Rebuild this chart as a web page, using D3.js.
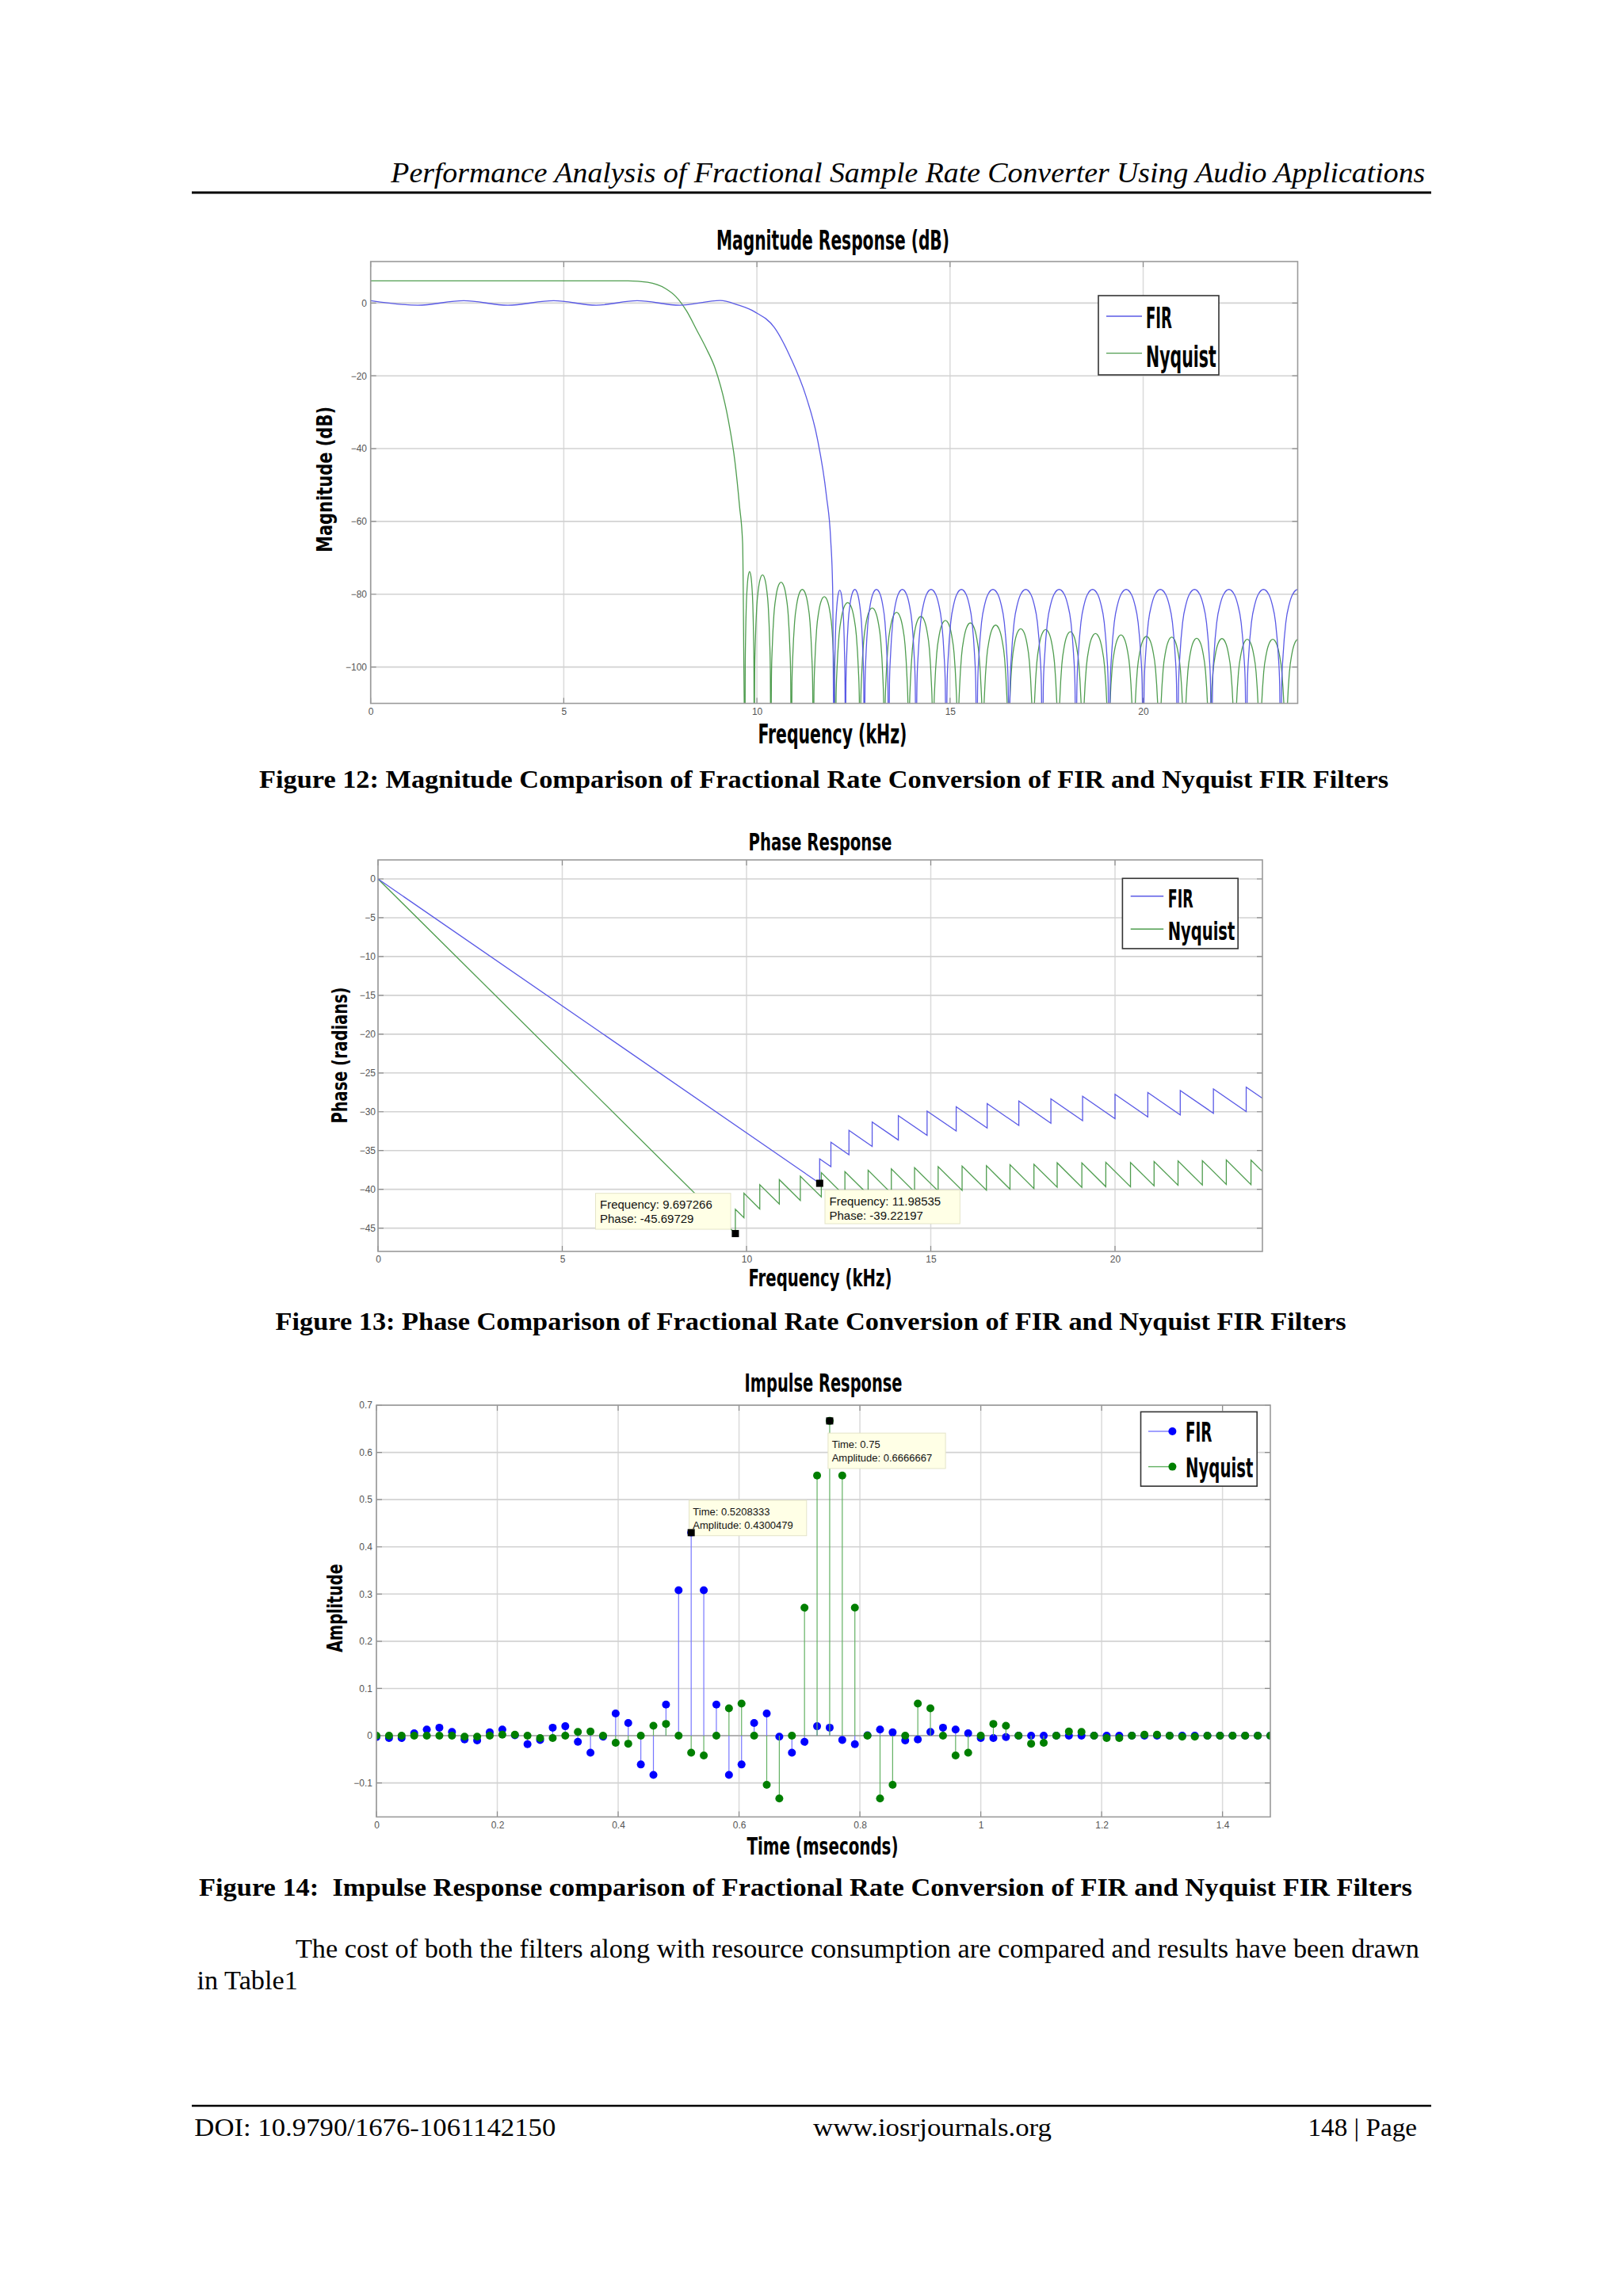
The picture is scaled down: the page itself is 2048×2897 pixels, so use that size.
<!DOCTYPE html>
<html><head><meta charset="utf-8">
<script src="https://cdn.jsdelivr.net/npm/d3@7"></script>
<style>
html,body{margin:0;padding:0;background:#fff;}
svg{display:block;}
</style></head><body>
<script>
// ================= DATA =================
// ---- Figure 12: Magnitude response (kHz, dB) ----
const firPassF  = [0, 1.22, 2.41, 3.55, 4.74, 5.84, 6.90, 8.00, 9.05, 9.50, 9.94, 10.45, 10.88, 11.27, 11.56, 11.80, 11.91, 11.96];
const firPassDb = [0.65, -0.6, 0.65, -0.6, 0.65, -0.6, 0.65, -0.6, 0.7, -0.5, -2.4, -6.7, -15.2, -25.6, -37, -53, -65, -78];
const firNulls  = [12.0, 12.29, 12.78, 13.41, 14.12, 14.90, 15.69, 16.53, 17.39, 18.26, 19.12, 20.00, 20.89, 21.77, 22.67, 23.56, 24.45];
const firLobePeakDb = [-78.9, -78.7, -78.7, -78.7, -78.7, -78.7, -78.7, -78.7, -78.7, -78.7, -78.7, -78.7, -78.7, -78.7, -78.7, -78.7];
const nyqPassF  = [0, 6.67, 7.17, 7.63, 7.90, 8.18, 8.45, 8.68, 8.92, 9.26, 9.43, 9.55, 9.63];
const nyqPassDb = [6.1, 6.1, 5.7, 4.0, 1.8, -2.2, -7.6, -12.3, -18.0, -32.2, -43.5, -55.8, -66];
const nyqNulls  = [9.69, 9.93, 10.36, 10.89, 11.46, 12.03, 12.67, 13.30, 13.93, 14.56, 15.20, 15.85, 16.51, 17.15, 17.80, 18.43, 19.10, 19.75, 20.42, 21.06, 21.71, 22.37, 23.02, 23.69, 24.33];
const nyqLobePeakDb = [-73.8, -74.7, -76.7, -78.7, -80.7, -82.3, -83.8, -85.0, -86.1, -87.2, -87.9, -88.5, -89.5, -89.7, -90.3, -90.8, -91.2, -91.6, -91.8, -92.1, -92.2, -92.4, -92.4, -92.4];
// typical side-lobe profile (fraction of lobe width, dB below lobe peak)
const lobeProfileT  = [0, 0.03, 0.07, 0.15, 0.25, 0.35, 0.5, 0.65, 0.75, 0.85, 0.93, 0.97];
const lobeProfileDb = [-50, -26, -18, -9, -4, -1.3, 0, -1.3, -4, -9, -18, -26];
const magXTicks = [0, 5, 10, 15, 20];
const magYTicks = [0, -20, -40, -60, -80, -100];

// ---- Figure 13: Phase response (kHz, radians) ----
const firPhaseJumpF    = [11.985, 12.29, 12.78, 13.41, 14.12, 14.90, 15.69, 16.53, 17.39, 18.26, 19.12, 20.00, 20.89, 21.77, 22.67, 23.56];
const firPhaseBefore   = [-39.22, -37.08, -35.54, -34.46, -33.64, -33.05, -32.49, -32.10, -31.77, -31.48, -31.15, -30.89, -30.66, -30.40, -30.20, -29.97];
const firPhaseAfter    = [-36.08, -33.93, -32.40, -31.32, -30.50, -29.91, -29.35, -28.96, -28.63, -28.34, -28.01, -27.75, -27.52, -27.26, -27.06, -26.83];
const firPhaseEnd      = -28.27;
const nyqPhaseJumpF    = [9.697, 9.93, 10.36, 10.89, 11.46, 12.03, 12.67, 13.30, 13.93, 14.56, 15.20, 15.85, 16.51, 17.15, 17.80, 18.43, 19.10, 19.75, 20.42, 21.06, 21.71, 22.37, 23.02, 23.69];
const nyqPhaseBefore   = [-45.70, -43.65, -42.54, -41.89, -41.44, -40.98, -40.86, -40.68, -40.51, -40.34, -40.21, -40.13, -40.10, -39.98, -39.90, -39.73, -39.74, -39.66, -39.68, -39.55, -39.47, -39.44, -39.36, -39.38];
const nyqPhaseAfter    = [-42.56, -40.51, -39.40, -38.75, -38.30, -37.84, -37.71, -37.54, -37.37, -37.20, -37.07, -36.99, -36.96, -36.83, -36.76, -36.58, -36.60, -36.52, -36.54, -36.41, -36.33, -36.30, -36.22, -36.24];
const nyqPhaseEnd      = -37.70;
const phaseXTicks = [0, 5, 10, 15, 20];
const phaseYTicks = [0, -5, -10, -15, -20, -25, -30, -35, -40, -45];
const phaseTips = [
  {f: 9.697266, v: -45.69729, lines: ["Frequency: 9.697266", "Phase: -45.69729"]},
  {f: 11.98535, v: -39.22197, lines: ["Frequency: 11.98535", "Phase: -39.22197"]}
];

// ---- Figure 14: Impulse response (samples every 1/48 ms) ----
const sampleStepMs = 1 / 48;
const impulseFir = [-0.003, -0.005, -0.005, 0.005, 0.013, 0.017, 0.008, -0.008, -0.010, 0.007,
  0.013, 0.001, -0.018, -0.009, 0.017, 0.020, -0.013, -0.036, -0.002, 0.047,
  0.027, -0.061, -0.083, 0.066, 0.308, 0.4300479, 0.308, 0.066, -0.083, -0.061,
  0.027, 0.047, -0.002, -0.036, -0.013, 0.020, 0.017, -0.009, -0.018, 0.001,
  0.013, 0.007, -0.010, -0.008, 0.008, 0.017, 0.013, 0.005, -0.005, -0.005,
  -0.003, 0, 0, 0, 0, 0, 0, 0, 0, 0,
  0, 0, 0, 0, 0, 0, 0, 0, 0, 0, 0, 0];
const impulseNyq = [0, 0, 0, 0, 0, 0, 0, -0.002, -0.002, 0,
  0.002, 0.002, 0, -0.005, -0.005, 0, 0.008, 0.009, 0, -0.015,
  -0.017, 0, 0.021, 0.025, 0, -0.036, -0.042, 0, 0.058, 0.068,
  0, -0.104, -0.133, 0, 0.271, 0.551, 0.6666667, 0.551, 0.271, 0,
  -0.133, -0.104, 0, 0.068, 0.058, 0, -0.042, -0.036, 0, 0.025,
  0.021, 0, -0.017, -0.015, 0, 0.009, 0.008, 0, -0.005, -0.005,
  0, 0.002, 0.002, 0, -0.002, -0.002, 0, 0, 0, 0, 0, 0];
const impXTicks = [0, 0.2, 0.4, 0.6, 0.8, 1, 1.2, 1.4];
const impYTicks = [-0.1, 0, 0.1, 0.2, 0.3, 0.4, 0.5, 0.6, 0.7];
const impTips = [
  {t: 0.5208333, v: 0.4300479, lines: ["Time: 0.5208333", "Amplitude: 0.4300479"]},
  {t: 0.75, v: 0.6666667, lines: ["Time: 0.75", "Amplitude: 0.6666667"]}
];

// ---- Page text ----
const headerText = "Performance Analysis of Fractional Sample Rate Converter Using Audio Applications";
const captions = [
  "Figure 12: Magnitude Comparison of Fractional Rate Conversion of FIR and Nyquist FIR Filters",
  "Figure 13: Phase Comparison of Fractional Rate Conversion of FIR and Nyquist FIR Filters",
  "Figure 14:  Impulse Response comparison of Fractional Rate Conversion of FIR and Nyquist FIR Filters"
];
const paraLines = ["The cost of both the filters along with resource consumption are compared and results have been drawn", "in Table1"];
const footerTexts = ["DOI: 10.9790/1676-1061142150", "www.iosrjournals.org", "148 | Page"];
const seriesNames = ["FIR", "Nyquist"];

// ================= DRAWING =================
const W = 2048, H = 2897;
const COND = "'Liberation Sans Narrow','DejaVu Sans Condensed','Liberation Sans',sans-serif";
const SANS = "'Liberation Sans',Arial,sans-serif";
const HEAVY = "'DejaVu Sans','Liberation Sans',sans-serif";
const SERIF = "'Liberation Serif','Times New Roman',serif";
const BLUE_LINE = "#5a5ae6", GREEN_LINE = "#4f9d4f";
const BLUE_DOT = "#0000ff", GREEN_DOT = "#007f00";
const BLUE_STEM = "#7777ff", GREEN_STEM = "#63b163";

const svg = d3.select("body").append("svg").attr("width", W).attr("height", H).attr("viewBox", `0 0 ${W} ${H}`);
svg.append("rect").attr("width", W).attr("height", H).attr("fill", "#fff");

function fitText(g, str, x, y, len, size, family, weight, anchor, extra) {
  const t = g.append("text").attr("x", x).attr("y", y).text(str)
    .attr("font-family", family).attr("font-size", size).attr("font-weight", weight || "normal")
    .attr("text-anchor", anchor || "start").attr("fill", "#000");
  if (len) t.attr("textLength", len).attr("lengthAdjust", "spacingAndGlyphs");
  if (extra) extra(t);
  return t;
}

function frame(cfg) {
  const {id, x, y, xTicks, yTicks, xFmt, yFmt, yLabelRight, xLabelDy} = cfg;
  const g = svg.append("g");
  const [l, r] = x.range(), [b, t] = y.range();
  g.selectAll(null).data(xTicks).enter().append("line")
    .attr("x1", d => x(d)).attr("x2", d => x(d)).attr("y1", t).attr("y2", b)
    .attr("stroke", "#dadada").attr("stroke-width", 1.5);
  g.selectAll(null).data(yTicks).enter().append("line")
    .attr("x1", l).attr("x2", r).attr("y1", d => y(d)).attr("y2", d => y(d))
    .attr("stroke", "#d2d2d2").attr("stroke-width", 1.6);
  g.selectAll(null).data(yTicks).enter().append("path")
    .attr("d", d => `M${l},${y(d)}h7M${r},${y(d)}h-7`).attr("stroke", "#8c8c8c").attr("stroke-width", 1.2);
  g.selectAll(null).data(xTicks).enter().append("path")
    .attr("d", d => `M${x(d)},${b}v-7M${x(d)},${t}v7`).attr("stroke", "#8c8c8c").attr("stroke-width", 1.2);
  svg.append("clipPath").attr("id", id).append("rect").attr("x", l).attr("y", t).attr("width", r - l).attr("height", b - t);
  const plot = svg.append("g").attr("clip-path", `url(#${id})`);
  const ax = svg.append("g").attr("transform", `translate(0,${b})`)
    .call(d3.axisBottom(x).tickValues(xTicks).tickFormat(xFmt).tickSize(0).tickPadding(xLabelDy));
  const ay = svg.append("g").attr("transform", `translate(${yLabelRight},0)`)
    .call(d3.axisLeft(y).tickValues(yTicks).tickFormat(yFmt).tickSize(0).tickPadding(0));
  [ax, ay].forEach(a => {
    a.select(".domain").remove();
    a.selectAll("text").attr("font-family", SANS).attr("font-size", 12).attr("fill", "#555");
  });
  const border = () => svg.append("rect").attr("x", l).attr("y", t).attr("width", r - l).attr("height", b - t)
    .attr("fill", "none").attr("stroke", "#9a9a9a").attr("stroke-width", 1.6);
  return {plot, border};
}

function legend(cfg) {
  const {x0, y0, w, h, lineX1, lineX2, textX, rows, fontSize, marker} = cfg;
  const g = svg.append("g");
  g.append("rect").attr("x", x0).attr("y", y0).attr("width", w).attr("height", h)
    .attr("fill", "#fff").attr("stroke", "#333").attr("stroke-width", 1.6);
  rows.forEach(rw => {
    g.append("line").attr("x1", lineX1).attr("x2", lineX2).attr("y1", rw.ly).attr("y2", rw.ly)
      .attr("stroke", rw.color).attr("stroke-width", 1.4);
    if (marker) g.append("circle").attr("cx", lineX2).attr("cy", rw.ly).attr("r", 5).attr("fill", rw.dot);
    fitText(g, rw.name, textX, rw.base, rw.len, fontSize, COND, "bold");
  });
}

function titleText(str, x, base, len, size) { fitText(svg, str, x, base, len, size, COND, "bold", "middle"); }
function yLabel(str, xb, yc, len, size) {
  fitText(svg, str, 0, 0, len, size, HEAVY, "bold", "middle", t => t.attr("transform", `translate(${xb},${yc}) rotate(-90)`));
}

// ---------- Figure 12 ----------
{
  const x = d3.scaleLinear().domain([0, 24]).range([467.7, 1637.5]);
  const y = d3.scaleLinear().domain([-110, 11.4]).range([887.5, 330]);
  const fr = frame({id: "c1", x, y, xTicks: magXTicks, yTicks: magYTicks, xFmt: d3.format("d"), yFmt: d3.format("d"), yLabelRight: 463, xLabelDy: 6});
  function magPoints(pf, pdb, nulls, peaks) {
    const pts = pf.map((f, i) => [f, pdb[i]]);
    peaks.forEach((pk, i) => {
      const a = nulls[i], bnd = nulls[i + 1];
      lobeProfileT.forEach((tt, j) => pts.push([a + tt * (bnd - a), pk + lobeProfileDb[j]]));
    });
    pts.push([nulls[nulls.length - 1], peaks[peaks.length - 1] - 50]);
    return pts;
  }
  const line = d3.line().x(d => x(d[0])).y(d => y(d[1])).curve(d3.curveMonotoneX);
  fr.plot.append("path").attr("d", line(magPoints(nyqPassF, nyqPassDb, nyqNulls, nyqLobePeakDb)))
    .attr("fill", "none").attr("stroke", GREEN_LINE).attr("stroke-width", 1.3);
  fr.plot.append("path").attr("d", line(magPoints(firPassF, firPassDb, firNulls, firLobePeakDb)))
    .attr("fill", "none").attr("stroke", BLUE_LINE).attr("stroke-width", 1.3);
  fr.border();
  legend({x0: 1386, y0: 373, w: 152, h: 100, lineX1: 1396, lineX2: 1441, textX: 1446, fontSize: 38,
    rows: [{name: seriesNames[0], ly: 399, base: 414.4, len: 33, color: BLUE_LINE},
           {name: seriesNames[1], ly: 445.6, base: 463, len: 88.7, color: GREEN_LINE}]});
  titleText("Magnitude Response (dB)", 1051, 314.7, 294, 34);
  titleText("Frequency (kHz)", 1050.4, 937.8, 188, 33);
  yLabel("Magnitude (dB)", 419, 605, 184, 27);
}

// ---------- Figure 13 ----------
{
  const x = d3.scaleLinear().domain([0, 24]).range([477, 1593]);
  const y = d3.scaleLinear().domain([-48, 2.45]).range([1579, 1085]);
  const fr = frame({id: "c2", x, y, xTicks: phaseXTicks, yTicks: phaseYTicks, xFmt: d3.format("d"), yFmt: d3.format("d"), yLabelRight: 474, xLabelDy: 5});
  function phasePts(jf, before, after, end) {
    const pts = [[0, 0]];
    jf.forEach((f, i) => { pts.push([f, before[i]]); pts.push([f, after[i]]); });
    pts.push([24, end]);
    return pts;
  }
  const line = d3.line().x(d => x(d[0])).y(d => y(d[1]));
  fr.plot.append("path").attr("d", line(phasePts(nyqPhaseJumpF, nyqPhaseBefore, nyqPhaseAfter, nyqPhaseEnd)))
    .attr("fill", "none").attr("stroke", GREEN_LINE).attr("stroke-width", 1.3);
  fr.plot.append("path").attr("d", line(phasePts(firPhaseJumpF, firPhaseBefore, firPhaseAfter, firPhaseEnd)))
    .attr("fill", "none").attr("stroke", BLUE_LINE).attr("stroke-width", 1.3);
  const boxes = [{x: 751.5, y: 1505.7, w: 170.5, h: 45.3}, {x: 1041, y: 1501.7, w: 170.3, h: 42.3}];
  phaseTips.forEach((tp, i) => {
    const bx = boxes[i];
    svg.append("rect").attr("x", bx.x).attr("y", bx.y).attr("width", bx.w).attr("height", bx.h)
      .attr("fill", "#ffffe6").attr("stroke", "#e4e4c8").attr("stroke-width", 1);
    tp.lines.forEach((s, k) => svg.append("text").attr("x", bx.x + 5.5).attr("y", bx.y + 19 + k * 18.5).text(s)
      .attr("font-family", SANS).attr("font-size", 15).attr("fill", "#111"));
    svg.append("rect").attr("x", x(tp.f) - 4.5).attr("y", y(tp.v) - 4.5).attr("width", 9).attr("height", 9).attr("fill", "#000");
  });
  fr.border();
  legend({x0: 1416.4, y0: 1108.3, w: 145.8, h: 88.6, lineX1: 1426.7, lineX2: 1468.2, textX: 1473.8, fontSize: 32,
    rows: [{name: seriesNames[0], ly: 1130.8, base: 1144.7, len: 31.9, color: BLUE_LINE},
           {name: seriesNames[1], ly: 1172.3, base: 1186.2, len: 84.5, color: GREEN_LINE}]});
  titleText("Phase Response", 1035, 1072.7, 181, 31);
  titleText("Frequency (kHz)", 1035, 1623, 181, 30);
  yLabel("Phase (radians)", 437.5, 1331.5, 172, 26);
}

// ---------- Figure 14 ----------
{
  const x = d3.scaleLinear().domain([0, 71 * sampleStepMs]).range([475, 1603]);
  const y = d3.scaleLinear().domain([-0.172, 0.7]).range([2292.5, 1773]);
  const fr = frame({id: "c3", x, y, xTicks: impXTicks, yTicks: impYTicks, xFmt: d => d === 0 || d === 1 ? String(d) : d3.format(".1f")(d), yFmt: d => d === 0 ? "0" : d3.format(".1f")(d), yLabelRight: 470, xLabelDy: 6});
  fr.plot.append("line").attr("x1", x.range()[0]).attr("x2", x.range()[1]).attr("y1", y(0)).attr("y2", y(0))
    .attr("stroke", "#a3a3a3").attr("stroke-width", 1.4);
  function stems(vals, stemColor, dotColor) {
    const gg = fr.plot.append("g");
    gg.selectAll("line").data(vals).enter().append("line")
      .attr("x1", (d, i) => x(i * sampleStepMs)).attr("x2", (d, i) => x(i * sampleStepMs))
      .attr("y1", y(0)).attr("y2", d => y(d)).attr("stroke", stemColor).attr("stroke-width", 1.2);
    gg.selectAll("circle").data(vals).enter().append("circle")
      .attr("cx", (d, i) => x(i * sampleStepMs)).attr("cy", d => y(d)).attr("r", 5).attr("fill", dotColor);
  }
  stems(impulseFir, BLUE_STEM, BLUE_DOT);
  stems(impulseNyq, GREEN_STEM, GREEN_DOT);
  const boxes = [{x: 869.5, y: 1893, w: 148.3, h: 44.7}, {x: 1044.9, y: 1808.2, w: 148.2, h: 44.7}];
  impTips.forEach((tp, i) => {
    const bx = boxes[i];
    svg.append("rect").attr("x", bx.x).attr("y", bx.y).attr("width", bx.w).attr("height", bx.h)
      .attr("fill", "#ffffe6").attr("stroke", "#e4e4c8").attr("stroke-width", 1);
    tp.lines.forEach((s, k) => svg.append("text").attr("x", bx.x + 4.8).attr("y", bx.y + 19 + k * 17).text(s)
      .attr("font-family", SANS).attr("font-size", 13).attr("fill", "#111"));
    svg.append("rect").attr("x", x(tp.t) - 4.5).attr("y", y(tp.v) - 4.5).attr("width", 9).attr("height", 9).attr("fill", "#000");
  });
  fr.border();
  legend({x0: 1439.5, y0: 1781.4, w: 146.7, h: 93.8, lineX1: 1449, lineX2: 1479.4, textX: 1496, fontSize: 33, marker: true,
    rows: [{name: seriesNames[0], ly: 1806, base: 1819.4, len: 33.5, color: BLUE_STEM, dot: BLUE_DOT},
           {name: seriesNames[1], ly: 1850.6, base: 1864, len: 85.3, color: GREEN_STEM, dot: GREEN_DOT}]});
  titleText("Impulse Response", 1039, 1756, 199, 32);
  titleText("Time (mseconds)", 1038, 2339.5, 191, 31);
  yLabel("Amplitude", 432, 2029, 111.6, 26);
}

// ---------- Page text ----------
fitText(svg, headerText, 493.3, 230, 1305, 36, SERIF, "normal", "start", t => t.attr("font-style", "italic"));
svg.append("line").attr("x1", 242).attr("x2", 1806).attr("y1", 243).attr("y2", 243).attr("stroke", "#000").attr("stroke-width", 3);
fitText(svg, captions[0], 327, 994, 1425, 32, SERIF, "bold");
fitText(svg, captions[1], 347.5, 1678, 1351, 32, SERIF, "bold");
fitText(svg, captions[2], 251, 2392, 1531, 32, SERIF, "bold", "start", t => t.attr("xml:space", "preserve").style("white-space", "pre"));
fitText(svg, paraLines[0], 372.9, 2470, 1418, 33, SERIF, "normal");
fitText(svg, paraLines[1], 248.4, 2510, 127.6, 33, SERIF, "normal");
svg.append("line").attr("x1", 242).attr("x2", 1806).attr("y1", 2657).attr("y2", 2657).attr("stroke", "#000").attr("stroke-width", 2.5);
fitText(svg, footerTexts[0], 245.3, 2695, 456, 32, SERIF, "normal");
fitText(svg, footerTexts[1], 1026, 2695, 301, 32, SERIF, "normal");
fitText(svg, footerTexts[2], 1650.5, 2695, 137.5, 32, SERIF, "normal");
</script>
</body></html>
